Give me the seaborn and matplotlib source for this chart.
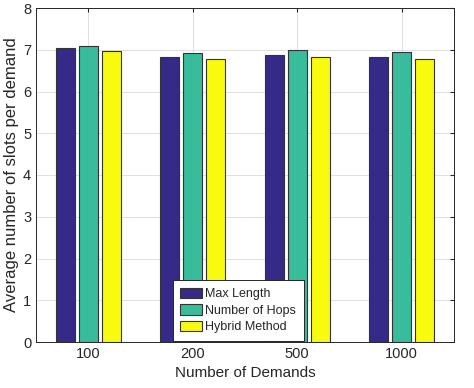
import pandas as pd
import matplotlib
matplotlib.use("Agg")
import matplotlib.pyplot as plt
import seaborn as sns

# data
demands = ['100', '200', '500', '1000']
max_length = [7.04, 6.83, 6.87, 6.83]
num_hops = [7.08, 6.92, 6.99, 6.95]
hybrid = [6.97, 6.77, 6.83, 6.79]
methods = ['Max Length', 'Number of Hops', 'Hybrid Method']

df = pd.DataFrame({
    'Demands': demands * 3,
    'Method': [methods[0]] * 4 + [methods[1]] * 4 + [methods[2]] * 4,
    'Value': max_length + num_hops + hybrid,
})

sns.set_style('white')
plt.rcParams['font.family'] = ['Liberation Sans', 'DejaVu Sans']

palette = {'Max Length': '#352a87', 'Number of Hops': '#38bc9c', 'Hybrid Method': '#f9fb0e'}

fig = plt.figure(figsize=(4.74, 3.88), dpi=100)
ax = fig.add_axes([36 / 474, 1 - 342 / 388, 418 / 474, 334 / 388])

sns.barplot(data=df, x='Demands', y='Value', hue='Method', order=demands,
            hue_order=methods, palette=palette, width=0.66, gap=0.18,
            edgecolor='#333333', linewidth=0.8, saturation=1, ax=ax)

ax.set_xlim(-0.5, 3.5)
ax.set_ylim(0, 8)
ax.set_yticks(range(0, 9))
ax.set_xlabel('Number of Demands', fontsize=11, color='#262626')
ax.set_ylabel('Average number of slots per demand', fontsize=12, color='#262626',
              labelpad=3)
ax.tick_params(direction='in', top=True, right=True, labelsize=10.5,
               colors='#262626', length=3)
ax.grid(True, color='#e0e0e0', linewidth=0.7)
ax.set_axisbelow(True)
for s in ax.spines.values():
    s.set_color('#262626')
    s.set_linewidth(0.7)

leg = ax.legend(loc='lower center', bbox_to_anchor=(0.484, 0.0), fontsize=9,
                frameon=True, fancybox=False, framealpha=1, borderaxespad=0.1,
                handlelength=1.75, handleheight=0.95, handletextpad=0.25,
                labelspacing=0.3, borderpad=0.6)
leg.get_frame().set_edgecolor('#262626')
leg.get_frame().set_linewidth(0.7)

fig.savefig('out.png', dpi=100)
